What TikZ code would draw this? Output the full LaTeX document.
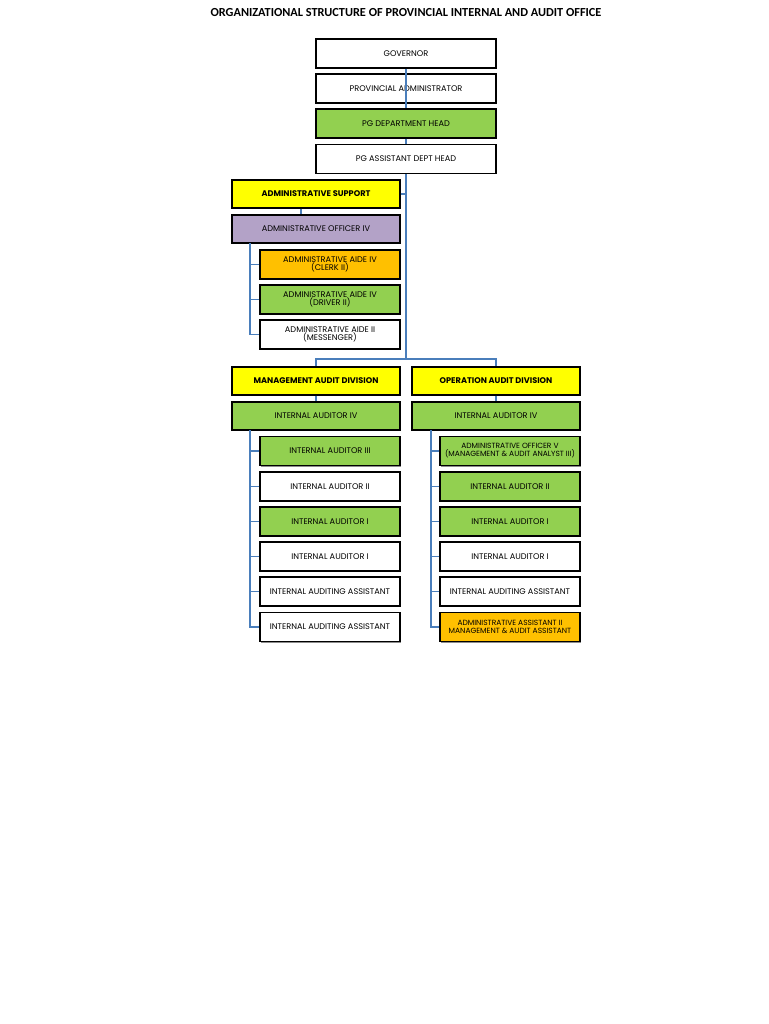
\documentclass[tikz,border=0pt]{standalone}
\usepackage{fontspec}
\usetikzlibrary{calc,shadows}
\newfontfamily\labfont{Poppins}
\newfontfamily\ttlfont{Carlito}
\newcommand\lab{\labfont\fontsize{8.2}{8.7}\selectfont}
\newcommand\labsm{\labfont\fontsize{7.5}{8}\selectfont}
\newcommand\ttl{\ttlfont\bfseries\fontsize{12.3}{14}\selectfont}
\definecolor{cgreen}{HTML}{92D050}
\definecolor{cyellow}{HTML}{FFFF00}
\definecolor{corange}{HTML}{FFC000}
\definecolor{cpurple}{HTML}{B3A2C7}
\definecolor{cblue}{HTML}{4A7EBB}
\tikzset{
  box/.style={draw=black, line width=1.1pt, font=\lab, align=center, inner sep=0.5pt, fill=white,
    drop shadow={shadow xshift=1pt, shadow yshift=-1pt, fill=black!45, opacity=1}},
  topbox/.style={box, minimum width=180pt, minimum height=29pt},
  midbox/.style={box, minimum width=168pt, minimum height=28pt},
  subbox/.style={box, minimum width=140pt, minimum height=29pt},
  conn/.style={draw=cblue, line width=1.2pt},
}
\begin{document}
\begin{tikzpicture}[x=1pt,y=-1pt]
\useasboundingbox (0,0) rectangle (768,1024);
\node[font=\ttl] (title) at (406,13) {ORGANIZATIONAL STRUCTURE OF PROVINCIAL INTERNAL AND AUDIT OFFICE};
% top chain
\node[topbox] (gov) at (406,53.5) {GOVERNOR};
\node[topbox] (pa) at (406,88.5) {PROVINCIAL ADMINISTRATOR};
\node[topbox, fill=cgreen] (pdh) at (406,123.5) {PG DEPARTMENT HEAD};
\node[topbox] (pah) at (406,159) {PG ASSISTANT DEPT HEAD};
% admin
\node[midbox, fill=cyellow] (as) at (316,194) {\bfseries ADMINISTRATIVE SUPPORT};
\node[midbox, fill=cpurple] (ao) at (316,229) {ADMINISTRATIVE OFFICER IV};
\node[subbox, fill=corange] (aa1) at (330,264.5) {ADMINISTRATIVE AIDE IV\\(CLERK II)};
\node[subbox, fill=cgreen] (aa2) at (330,299.5) {ADMINISTRATIVE AIDE IV\\(DRIVER II)};
\node[subbox] (aa3) at (330,334.5) {ADMINISTRATIVE AIDE II\\(MESSENGER)};
% divisions
\node[midbox, fill=cyellow] (mad) at (316,381) {\bfseries MANAGEMENT AUDIT DIVISION};
\node[midbox, fill=cyellow] (oad) at (496,381) {\bfseries OPERATION AUDIT DIVISION};
\node[midbox, fill=cgreen] (ial) at (316,416) {INTERNAL AUDITOR IV};
\node[midbox, fill=cgreen] (iar) at (496,416) {INTERNAL AUDITOR IV};
% left children
\node[subbox, fill=cgreen] (l1) at (330,451) {INTERNAL AUDITOR III};
\node[subbox] (l2) at (330,486.5) {INTERNAL AUDITOR II};
\node[subbox, fill=cgreen] (l3) at (330,521.5) {INTERNAL AUDITOR I};
\node[subbox] (l4) at (330,556.5) {INTERNAL AUDITOR I};
\node[subbox] (l5) at (330,591.5) {INTERNAL AUDITING ASSISTANT};
\node[subbox] (l6) at (330,627) {INTERNAL AUDITING ASSISTANT};
% right children
\node[subbox, fill=cgreen, font=\labsm] (r1) at (510,451) {ADMINISTRATIVE OFFICER V\\(MANAGEMENT \& AUDIT ANALYST III)};
\node[subbox, fill=cgreen] (r2) at (510,486.5) {INTERNAL AUDITOR II};
\node[subbox, fill=cgreen] (r3) at (510,521.5) {INTERNAL AUDITOR I};
\node[subbox] (r4) at (510,556.5) {INTERNAL AUDITOR I};
\node[subbox] (r5) at (510,591.5) {INTERNAL AUDITING ASSISTANT};
\node[subbox, fill=corange, font=\labsm] (r6) at (510,627) {ADMINISTRATIVE ASSISTANT II\\MANAGEMENT \& AUDIT ASSISTANT};
% connectors
\coordinate (spine) at (406,359);
\coordinate (b1) at (250,243);
\coordinate (b2) at (250,430);
\coordinate (b3) at (431,430);
\draw[conn] (gov.south) -- (pdh.north);
\draw[conn] (pdh.south) -- (pah.north);
\draw[conn] (pah.south) -- (spine);
\draw[conn] (as.east) -- (as.east -| spine);
\draw[conn] ($(as.south)+(-15,0)$) -- ($(ao.north)+(-15,0)$);
\draw[conn] (b1) |- (aa3.west);
\foreach \n in {aa1,aa2} \draw[conn] (\n.west) -- (\n.west -| b1);
\draw[conn] (spine) -| (mad.north);
\draw[conn] (spine) -| (oad.north);
\draw[conn] (mad.south) -- (ial.north);
\draw[conn] (oad.south) -- (iar.north);
\draw[conn] (b2) |- (l6.west);
\foreach \n in {l1,l2,l3,l4,l5} \draw[conn] (\n.west) -- (\n.west -| b2);
\draw[conn] (b3) |- (r6.west);
\foreach \n in {r1,r2,r3,r4,r5} \draw[conn] (\n.west) -- (\n.west -| b3);
\end{tikzpicture}
\end{document}
